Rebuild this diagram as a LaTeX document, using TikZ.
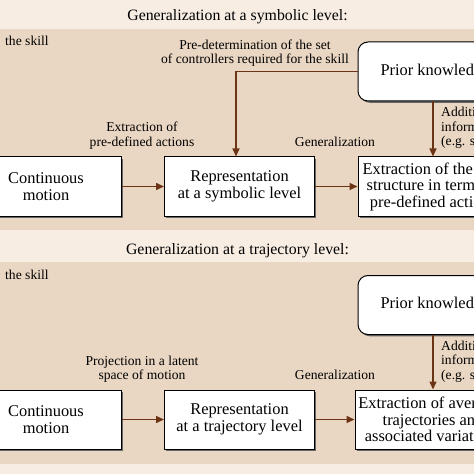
\documentclass[tikz,border=0pt]{standalone}
\usepackage{fontspec}
\setmainfont{Liberation Serif}
\usetikzlibrary{arrows.meta,shadows}
\definecolor{outerbg}{HTML}{F7EDE3}
\definecolor{innerbg}{HTML}{EAD7C3}
\definecolor{arrowc}{HTML}{6B3515}
\tikzset{
  box/.style={draw=black, line width=1bp, fill=white, minimum width=150bp,
    minimum height=59bp, align=center, inner sep=0pt,
    font=\fontsize{16.4bp}{16.5bp}\selectfont,
    drop shadow={shadow xshift=1.8bp, shadow yshift=-1.8bp, fill=black!60, opacity=1}},
  roundbox/.style={box, rounded corners=10bp},
  lab/.style={font=\fontsize{13.6bp}{15bp}\selectfont, inner sep=0pt},
  ttl/.style={font=\fontsize{15.8bp}{17bp}\selectfont, inner sep=0pt},
  arr/.style={draw=arrowc, line width=1.5bp, -{Triangle[length=8bp,width=7bp]}}
}
\begin{document}
\begin{tikzpicture}[x=1bp,y=-1bp]
\useasboundingbox (0,0) rectangle (474,474);
\clip (0,0) rectangle (474,474);
\fill[outerbg] (0,0) rectangle (474,474);
\fill[innerbg] (0,29) rectangle (474,230);
\fill[innerbg] (0,262) rectangle (474,464);

% ---------- top panel ----------
\node[ttl, anchor=base] (t1) at (237.5,21) {Generalization at a symbolic level:};
\node[lab, anchor=base west] (sk1) at (5,46) {the skill};

\node[roundbox] (prior1) at (433,71.5) {\hspace*{4bp}Prior knowledge};
\node[box] (cm1) at (46,186.5) {Continuous\\motion};
\node[box] (rep1) at (239.5,186.5) {Representation\\at a symbolic level};
\node[box] (ext1) at (433,186.5) {Extraction of the task\\structure in terms of\\pre-defined actions};

\node[lab, anchor=base] (pd1) at (255,49.3) {Pre-determination of the set};
\node[lab, anchor=base] (pd2) at (255,64) {of controllers required for the skill};
\node[lab, anchor=base] (ea1) at (142,132) {Extraction of};
\node[lab, anchor=base] (ea2) at (142,146.5) {pre-defined actions};
\node[lab, anchor=base] (g1) at (335,146.5) {Generalization};
\node[lab, anchor=base west] (ad1) at (441,117) {Additional};
\node[lab, anchor=base west] (ad2) at (441,131.5) {information};
\node[lab, anchor=base west] (ad3) at (441,146) {(e.g. s};

\draw[arr] (cm1) -- (rep1);
\draw[arr] (rep1) -- (ext1);
\draw[arr] (prior1.south) -- (ext1.north);
\draw[arr] (prior1.west) -| ([xshift=-3.5bp]rep1.north);

% ---------- bottom panel ----------
\node[ttl, anchor=base] (t2) at (237.5,254.7) {Generalization at a trajectory level:};
\node[lab, anchor=base west] (sk2) at (5,279) {the skill};

\node[roundbox] (prior2) at (433,305) {\hspace*{4bp}Prior knowledge};
\node[box] (cm2) at (46,419.5) {Continuous\\motion};
\node[box] (rep2) at (239.5,419.5) {Representation\\at a trajectory level};
\node[box, minimum width=156bp] (ext2) at (433,419.5) {Extraction of averaged\\trajectories and\\associated variations};

\node[lab, anchor=base] (pl1) at (142,365) {Projection in a latent};
\node[lab, anchor=base] (pl2) at (142,379) {space of motion};
\node[lab, anchor=base] (g2) at (335,379) {Generalization};
\node[lab, anchor=base west] (bd1) at (441,350) {Additional};
\node[lab, anchor=base west] (bd2) at (441,364.5) {information};
\node[lab, anchor=base west] (bd3) at (441,379) {(e.g. s};

\draw[arr] (cm2) -- (rep2);
\draw[arr] (rep2) -- (ext2);
\draw[arr] (prior2.south) -- (ext2.north);
\end{tikzpicture}
\end{document}
